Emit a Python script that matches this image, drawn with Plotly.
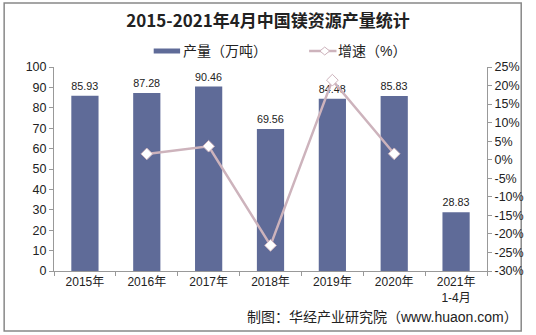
import plotly.graph_objects as go

categories = ["2015年", "2016年", "2017年", "2018年", "2019年", "2020年", "2021年<br>1-4月"]
output_vals = [85.93, 87.28, 90.46, 69.56, 84.48, 85.83, 28.83]
growth_vals = [None, 1.57, 3.64, -23.10, 21.45, 1.60, None]
y_ticks = [0, 10, 20, 30, 40, 50, 60, 70, 80, 90, 100]
y2_ticks = [25, 20, 15, 10, 5, 0, -5, -10, -15, -20, -25, -30]
series_names = ["产量（万吨）", "增速（%）"]

W, H = 536, 335
L, R, T, B = 54, 39, 67, 64
pw, ph = W - L - R, H - T - B

def px_x(x):
    return (x - L) / pw

def px_y(y):
    return (H - B - y) / ph

bar_color = "#5F6B98"
line_color = "#CDB3BC"
font = "'Liberation Sans', Arial, 'Noto Sans CJK SC', sans-serif"
cjk = "'Liberation Sans', 'Noto Sans CJK SC', sans-serif"

fig = go.Figure()
fig.add_trace(go.Bar(
    x=categories, y=output_vals, name=series_names[0],
    marker=dict(color=bar_color, line=dict(width=0)),
    width=0.44,
    text=[f"{v:.2f}" for v in output_vals], textposition="outside",
    textfont=dict(size=12, color="#222", family=font),
    cliponaxis=False,
))
fig.add_trace(go.Scatter(
    x=categories, y=growth_vals, name=series_names[1], yaxis="y2",
    mode="lines+markers",
    line=dict(color=line_color, width=2.5),
    marker=dict(symbol="diamond", size=9, color="white", line=dict(color=line_color, width=1)),
    connectgaps=False,
))

# manual legend (paper coordinates from pixel positions)
leg_y = 51
shapes = [
    dict(type="rect", xref="paper", yref="paper",
         x0=px_x(3), x1=px_x(532), y0=px_y(331), y1=px_y(3),
         line=dict(color="#888", width=1.5), fillcolor="rgba(0,0,0,0)", layer="below"),
    dict(type="rect", xref="paper", yref="paper",
         x0=px_x(156), x1=px_x(183), y0=px_y(leg_y + 2.5), y1=px_y(leg_y - 2.5),
         line=dict(width=0), fillcolor=bar_color),
    dict(type="line", xref="paper", yref="paper",
         x0=px_x(315), x1=px_x(343), y0=px_y(leg_y), y1=px_y(leg_y),
         line=dict(color=line_color, width=2.5)),
    dict(type="path", xref="paper", yref="paper",
         path=f"M {px_x(326)},{px_y(leg_y)} L {px_x(331)},{px_y(leg_y - 4)} L {px_x(336)},{px_y(leg_y)} L {px_x(331)},{px_y(leg_y + 4)} Z",
         line=dict(color=line_color, width=1), fillcolor="white"),
]

annotations = [
    dict(text=series_names[0], xref="paper", yref="paper", x=px_x(184), y=px_y(leg_y),
         xanchor="left", yanchor="middle", showarrow=False,
         font=dict(size=14, color="#222", family=cjk)),
    dict(text=series_names[1], xref="paper", yref="paper", x=px_x(343), y=px_y(leg_y),
         xanchor="left", yanchor="middle", showarrow=False,
         font=dict(size=14, color="#222", family=cjk)),
    dict(text="制图：华经产业研究院（www.huaon.com）", xref="paper", yref="paper",
         x=px_x(249), y=px_y(317), xanchor="left", yanchor="middle", showarrow=False,
         font=dict(size=14, color="#222", family=cjk)),
]

fig.update_layout(
    width=W, height=H,
    margin=dict(l=L, r=R, t=T, b=B),
    paper_bgcolor="white", plot_bgcolor="white",
    showlegend=False,
    bargap=0.56,
    title=dict(text="<b>2015-2021年4月中国镁资源产量统计</b>", x=0.5, xanchor="center",
               y=1 - 21 / H, yanchor="middle",
               font=dict(size=17, color="#222", family="'Noto Sans CJK SC', sans-serif")),
    xaxis=dict(
        showline=True, linecolor="#999", linewidth=1,
        ticks="outside", ticklen=4, tickcolor="#999",
        tickson="boundaries",
        tickfont=dict(size=12, color="#222", family=font),
        showgrid=False,
    ),
    yaxis=dict(
        range=[0, 100], tickvals=y_ticks,
        showline=True, linecolor="#999", linewidth=1,
        ticks="outside", ticklen=4, tickcolor="#999",
        tickfont=dict(size=12.5, color="#222", family=font),
        showgrid=False, zeroline=False,
    ),
    yaxis2=dict(
        range=[-30, 25], tickvals=y2_ticks, ticktext=[f"{v}%" for v in y2_ticks],
        overlaying="y", side="right",
        showline=True, linecolor="#999", linewidth=1,
        ticks="outside", ticklen=4, tickcolor="#999",
        tickfont=dict(size=12.5, color="#222", family=font),
        showgrid=False, zeroline=False,
    ),
    shapes=shapes,
    annotations=annotations,
)

fig.write_html("out.html")
